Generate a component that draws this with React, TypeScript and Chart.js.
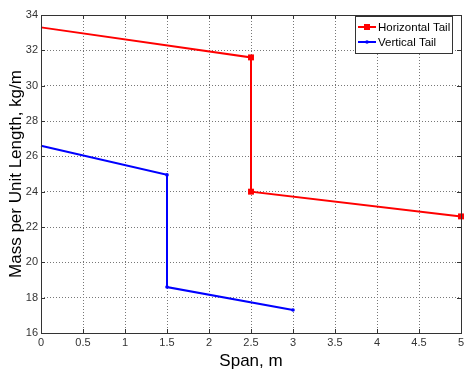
import React, { useEffect, useRef } from "react";
import { Chart, registerables } from "chart.js";

Chart.register(...registerables);

const horizSpan = [0, 2.5, 2.5, 5];
const horizMass = [33.3, 31.6, 24.0, 22.6];
const vertSpan = [0, 1.5, 1.5, 3];
const vertMass = [26.6, 24.95, 18.6, 17.3];
const seriesNames = ["Horizontal Tail", "Vertical Tail"];
const xTitle = "Span, m";
const yTitle = "Mass per Unit Length, kg/m";
const xMin = 0, xMax = 5, xStep = 0.5;
const yMin = 16, yMax = 34, yStep = 2;

const FONT = "'Liberation Sans', Arial, sans-serif";

const boxPlugin = {
  id: "boxAndLegend",
  afterDraw(chart: any) {
    const { ctx, chartArea } = chart;
    const { left, right, top, bottom } = chartArea;
    ctx.save();
    ctx.strokeStyle = "#333";
    ctx.lineWidth = 1;
    ctx.strokeRect(Math.round(left) + 0.5, Math.round(top) + 0.5, Math.round(right - left), Math.round(bottom - top));
    const xs = chart.scales.x, ys = chart.scales.y;
    ctx.beginPath();
    xs.ticks.forEach((t: any) => {
      const px = Math.round(xs.getPixelForValue(t.value)) + 0.5;
      ctx.moveTo(px, bottom); ctx.lineTo(px, bottom - 4);
      ctx.moveTo(px, top); ctx.lineTo(px, top + 4);
    });
    ys.ticks.forEach((t: any) => {
      const py = Math.round(ys.getPixelForValue(t.value)) + 0.5;
      ctx.moveTo(left, py); ctx.lineTo(left + 4, py);
      ctx.moveTo(right, py); ctx.lineTo(right - 4, py);
    });
    ctx.stroke();
    // legend
    const lx = 355, ly = 16, lw = 97, lh = 37;
    ctx.fillStyle = "#fff";
    ctx.fillRect(lx, ly, lw, lh);
    ctx.strokeStyle = "#333";
    ctx.strokeRect(lx + 0.5, ly + 0.5, lw, lh);
    const colors = ["#ff0000", "#0000ff"];
    ctx.font = `11.5px ${FONT}`;
    ctx.textBaseline = "middle";
    seriesNames.forEach((name, i) => {
      const cy = ly + 11 + i * 15;
      ctx.strokeStyle = colors[i];
      ctx.lineWidth = 2;
      ctx.beginPath();
      ctx.moveTo(lx + 3, cy); ctx.lineTo(lx + 21, cy);
      ctx.stroke();
      ctx.fillStyle = colors[i];
      if (i === 0) ctx.fillRect(lx + 9, cy - 3, 6, 6);
      else { ctx.beginPath(); ctx.arc(lx + 12, cy, 1.8, 0, Math.PI * 2); ctx.fill(); }
      ctx.fillStyle = "#000";
      ctx.fillText(name, lx + 23, cy + 1);
    });
    ctx.restore();
  },
};

export default function App() {
  const ref = useRef<HTMLCanvasElement>(null);
  useEffect(() => {
    document.body.style.margin = "0";
    const chart = new Chart(ref.current!, {
      type: "scatter",
      data: {
        datasets: [
          {
            label: seriesNames[0],
            data: horizSpan.map((x, i) => ({ x, y: horizMass[i] })),
            showLine: true,
            borderColor: "#ff0000",
            backgroundColor: "#ff0000",
            borderWidth: 2,
            pointStyle: "rect",
            pointRadius: (c: any) => (c.dataIndex === 0 ? 0 : 4.2),
            pointBorderWidth: 0,
            clip: false,
          },
          {
            label: seriesNames[1],
            data: vertSpan.map((x, i) => ({ x, y: vertMass[i] })),
            showLine: true,
            borderColor: "#0000ff",
            backgroundColor: "#0000ff",
            borderWidth: 2,
            pointStyle: "circle",
            pointRadius: (c: any) => (c.dataIndex === 0 ? 0 : 1.8),
            pointBorderWidth: 0,
            clip: false,
          },
        ],
      },
      options: {
        animation: false,
        responsive: false,
        layout: { padding: { top: 15, right: 13, left: 6, bottom: 0 } },
        plugins: { legend: { display: false }, tooltip: { enabled: false } },
        scales: {
          x: {
            type: "linear",
            min: xMin,
            max: xMax,
            ticks: {
              stepSize: xStep, color: "#333", font: { family: FONT, size: 11 }, padding: 3, maxRotation: 0,
              callback: (v: any) => String(Math.round(Number(v) * 10) / 10),
            },
            grid: { color: "#777", drawTicks: false, lineWidth: 1 },
            border: { display: false, dash: [1, 2] },
            title: { display: true, text: xTitle, color: "#000", font: { family: FONT, size: 17 }, padding: { top: 0, bottom: 0 } },
            afterFit(s: any) { s.height = 39; },
          },
          y: {
            type: "linear",
            min: yMin,
            max: yMax,
            ticks: { stepSize: yStep, color: "#333", font: { family: FONT, size: 11 }, padding: 3 },
            grid: { color: "#777", drawTicks: false, lineWidth: 1 },
            border: { display: false, dash: [1, 2] },
            title: { display: true, text: yTitle, color: "#000", font: { family: FONT, size: 17 }, padding: { top: 0, bottom: 0 } },
            afterFit(s: any) { s.width = 35; },
          },
        },
      },
      plugins: [boxPlugin],
    });
    return () => chart.destroy();
  }, []);
  return <canvas ref={ref} width={474} height={372} style={{ display: "block" }} />;
}
